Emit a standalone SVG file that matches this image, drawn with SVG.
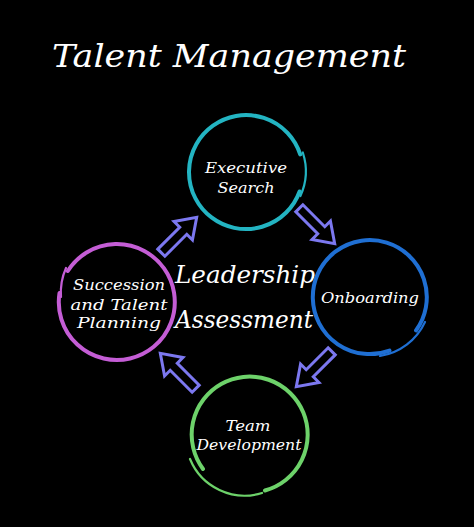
<svg xmlns="http://www.w3.org/2000/svg" width="474" height="527" viewBox="0 0 474 527">
<style>
.t{fill:#fff;font-family:"DejaVu Serif","Liberation Serif",serif;font-style:italic;text-anchor:middle}
.main{fill:none;stroke-width:4;stroke-linecap:round}
.tail{fill:none;stroke-width:2.2;stroke-linecap:round}
.arr{fill:none;stroke:#7c78f0;stroke-width:3;stroke-linejoin:miter}
</style>
<defs>
<polygon id="ar" points="-25,-5 6,-5 6,-13 25,0 6,13 6,5 -25,5"/>
</defs>
<rect x="0" y="0" width="474" height="527" fill="#000"/>
<text class="t" x="229" y="67" font-size="32" textLength="354" lengthAdjust="spacingAndGlyphs">Talent Management</text>

<g id="center">
<text class="t" x="245" y="283" font-size="25" textLength="140" lengthAdjust="spacingAndGlyphs">Leadership</text>
<text class="t" x="244" y="328" font-size="25" textLength="138" lengthAdjust="spacingAndGlyphs">Assessment</text>
</g>

<g id="connectors">
<use href="#ar" class="arr" transform="translate(179,235) rotate(-45)"/>
<use href="#ar" class="arr" transform="translate(317,226) rotate(45)"/>
<use href="#ar" class="arr" transform="translate(314,369) rotate(135)"/>
<use href="#ar" class="arr" transform="translate(178,371) rotate(225)"/>
</g>

<g id="executive-search">
<path class="main" stroke="#23b4c2" d="M299.6,191.5 A57,57 0 1 1 300.2,154.4"/>
<path class="tail" stroke="#23b4c2" d="M302.8,152.5 A60,60 0 0 1 300.4,196"/>
<text class="t" x="246" y="173" font-size="15" textLength="82" lengthAdjust="spacingAndGlyphs">Executive</text>
<text class="t" x="246" y="193" font-size="15" textLength="57" lengthAdjust="spacingAndGlyphs">Search</text>
</g>

<g id="onboarding">
<path class="main" stroke="#1f6fd3" d="M416,330.5 A57,57 0 1 0 389.5,350.6"/>
<path class="tail" stroke="#1f6fd3" d="M425,322 A60,60 0 0 1 380,356"/>
<text class="t" x="370" y="303" font-size="15" textLength="98" lengthAdjust="spacingAndGlyphs">Onboarding</text>
</g>

<g id="succession">
<path class="main" stroke="#c45dd5" d="M67.8,271 A58,58 0 1 1 59.5,293"/>
<path class="tail" stroke="#c45dd5" d="M61,297 A60,60 0 0 1 66,268"/>
<text class="t" x="119" y="290" font-size="15" textLength="92" lengthAdjust="spacingAndGlyphs">Succession</text>
<text class="t" x="119" y="310" font-size="15" textLength="97" lengthAdjust="spacingAndGlyphs">and Talent</text>
<text class="t" x="119" y="328" font-size="15" textLength="84" lengthAdjust="spacingAndGlyphs">Planning</text>
</g>

<g id="team-development">
<path class="main" stroke="#6dd26a" d="M203,469 A58,58 0 1 1 265,490.5"/>
<path class="tail" stroke="#6dd26a" d="M190,459 A59,59 0 0 0 262,493"/>
<text class="t" x="248" y="431" font-size="15" textLength="45" lengthAdjust="spacingAndGlyphs">Team</text>
<text class="t" x="249" y="450" font-size="15" textLength="105" lengthAdjust="spacingAndGlyphs">Development</text>
</g>
</svg>
